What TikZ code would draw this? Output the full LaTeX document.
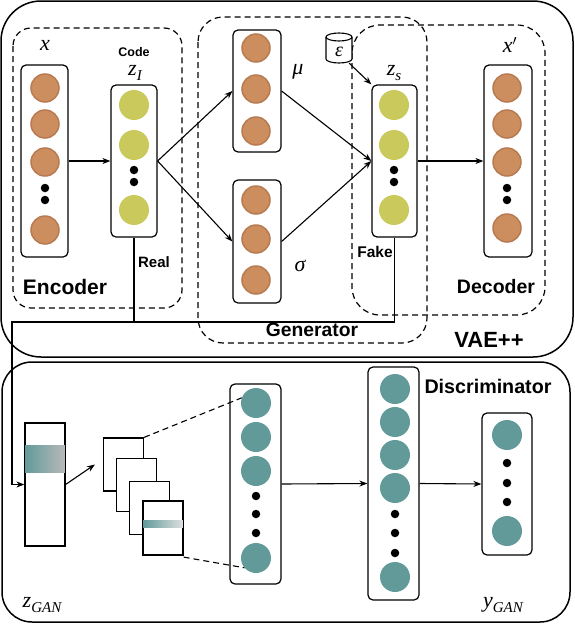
\documentclass[tikz,border=0pt]{standalone}
\usepackage{fontspec}
\newfontfamily\hv{Liberation Sans}
\newfontfamily\tm{Liberation Serif}
\usetikzlibrary{arrows.meta}
\definecolor{brownfill}{RGB}{205,142,95}
\definecolor{brownline}{RGB}{184,122,80}
\definecolor{ygreen}{RGB}{201,201,92}
\definecolor{tealc}{RGB}{98,154,154}
\newcommand\mi[1]{{\tm\itshape #1}}
\newcommand\msub[2]{\mi{#1}\raisebox{-5pt}{\fontsize{15}{15}\selectfont\mi{#2}}}
\begin{document}
\begin{tikzpicture}[x=1pt,y=-1pt,
  outerbox/.style={draw, line width=1.5pt},
  dbox/.style={draw, line width=1.2pt, dash pattern=on 6pt off 4pt},
  col/.style={draw, rounded corners=5pt, line width=1.2pt, inner sep=0, fill=white},
  bc/.style={circle, fill=brownfill, draw=brownline, line width=1.5pt, minimum size=28pt, inner sep=0},
  yc/.style={circle, fill=ygreen, minimum size=30pt, inner sep=0},
  tc/.style={circle, fill=tealc, minimum size=30pt, inner sep=0},
  dotc/.style={circle, fill=black, minimum size=8.5pt, inner sep=0},
  sq/.style={draw, line width=1.2pt, fill=white, minimum width=40pt, minimum height=53pt, inner sep=0},
  arr/.style={-{Stealth[length=8pt,width=6pt]}, line width=1.1pt},
  ln/.style={line width=1.1pt},
  lab/.style={font=\hv\bfseries\fontsize{15.5}{18}\selectfont, inner sep=0},
  mlab/.style={font=\fontsize{22}{24}\selectfont, inner sep=0}
]
\useasboundingbox (0,0) rectangle (575,627);

% outer boxes
\draw[outerbox, rounded corners=40pt] (1,1) rectangle (573,357);
\draw[outerbox, rounded corners=30pt] (2,362) rectangle (570,622);

% dashed groups
\draw[dbox, rounded corners=18pt] (13,28) rectangle (182,308);
\draw[dbox, rounded corners=25pt] (198,17) rectangle (427,343);
\draw[dbox, rounded corners=28pt] (352,25) rectangle (545,315);

% ---------- VAE part ----------
\node[col, minimum width=47pt, minimum height=192pt] (xcol) at (44.5,161) {};
\node[bc] (x1) at (45,88) {};
\node[bc] (x2) at (45,124) {};
\node[bc] (x3) at (45,162) {};
\node[dotc] (xd1) at (45,188) {};
\node[dotc] (xd2) at (45,200) {};
\node[bc] (x4) at (45,230) {};

\node[col, minimum width=46pt, minimum height=152pt] (zi) at (134,161) {};
\node[yc] (zi1) at (134,105) {};
\node[yc] (zi2) at (134,145) {};
\node[dotc] (zid1) at (134,170) {};
\node[dotc] (zid2) at (134,182) {};
\node[yc] (zi3) at (134,210) {};

\node[col, minimum width=48pt, minimum height=122pt] (mu) at (257,91) {};
\node[bc] (mu1) at (256,48) {};
\node[bc] (mu2) at (256,89) {};
\node[bc] (mu3) at (256,131) {};

\node[col, minimum width=48pt, minimum height=123pt] (sg) at (257,241.5) {};
\node[bc] (sg1) at (256,200) {};
\node[bc] (sg2) at (256,239) {};
\node[bc] (sg3) at (256,280) {};

\node[col, minimum width=45pt, minimum height=152pt] (zs) at (394.5,161) {};
\node[yc] (zs1) at (394,105) {};
\node[yc] (zs2) at (394,145) {};
\node[dotc] (zsd1) at (394,170) {};
\node[dotc] (zsd2) at (394,182) {};
\node[yc] (zs3) at (394,210) {};

\node[col, minimum width=48pt, minimum height=192pt] (xp) at (508,161) {};
\node[bc] (xp1) at (507,88) {};
\node[bc] (xp2) at (507,124) {};
\node[bc] (xp3) at (507,162) {};
\node[dotc] (xpd1) at (507,188) {};
\node[dotc] (xpd2) at (507,200) {};
\node[bc] (xp4) at (507,228) {};

% epsilon cylinder
\node[minimum width=26pt, minimum height=30pt, inner sep=0] (eps) at (339,48) {};
\draw[line width=1.1pt, fill=white] (326,37) -- (326,59) arc[start angle=180, end angle=360, x radius=13pt, y radius=4pt] -- (352,37);
\draw[line width=1.1pt] (339,37) ellipse [x radius=13pt, y radius=4pt];
\node[font=\fontsize{20}{22}\selectfont, inner sep=0] (epst) at (339,52) {\mi{ε}};

% arrows VAE
\draw[arr] (xcol.east) -- (zi.west);
\draw[arr] (zi.east) -- (mu.west);
\draw[arr] (zi.east) -- (sg.west);
\draw[arr] (mu.east) -- (zs.west);
\draw[arr] (sg.east) -- (zs.west);
\draw[arr] ([xshift=-3pt]eps.south east) -- (zs.north west);
\draw[arr] (zs.east) -- (xp.west);

% ---------- GAN part ----------
\node[draw, line width=1.2pt, fill=white, minimum width=40pt, minimum height=123pt, inner sep=0] (zgan) at (45,484.5) {};
\shade[left color=tealc, right color=gray!55] (25,445) rectangle (65,472);
\draw[line width=1.2pt] (zgan.north west) rectangle (zgan.south east);

\coordinate (bus) at (12,322);
\draw[ln] (zs.south) |- (bus);
\draw[arr] (zi.south) |- (bus) |- (zgan.west);

\node[sq] (s1) at (123.5,464.5) {};
\node[sq] (s2) at (136.5,485) {};
\node[sq] (s3) at (149.5,508) {};
\node[sq] (s4) at (163,528) {};
\shade[left color=tealc, right color=gray!25] (143,520) rectangle (183,527);
\draw[line width=1.2pt] (s4.north west) rectangle (s4.south east);
\draw[arr] (zgan.east) -- ([xshift=-8pt]s1.west);

\node[col, minimum width=51pt, minimum height=200pt] (c1) at (255.5,484) {};
\node[tc] (c11) at (256,403) {};
\node[tc] (c12) at (256,437) {};
\node[tc] (c13) at (256,471) {};
\node[dotc] (c1d1) at (256,496) {};
\node[dotc] (c1d2) at (256,514) {};
\node[dotc] (c1d3) at (256,533) {};
\node[tc] (c14) at (256,558) {};

\draw[ln, dash pattern=on 6pt off 4pt] (s1.north east) -- (c11.160);
\draw[ln, dash pattern=on 6pt off 4pt] ([yshift=-2pt]s4.south east) -- (c14.220);

\node[col, minimum width=51pt, minimum height=233pt] (c2) at (393.5,483.5) {};
\node[tc] (c21) at (395,389) {};
\node[tc] (c22) at (395,422) {};
\node[tc] (c23) at (395,455) {};
\node[tc] (c24) at (395,488) {};
\node[dotc] (c2d1) at (395,514) {};
\node[dotc] (c2d2) at (395,533) {};
\node[dotc] (c2d3) at (395,553) {};
\node[tc] (c25) at (395,577) {};

\node[col, minimum width=50pt, minimum height=142pt] (c3) at (507,484) {};
\node[tc] (c31) at (507,435) {};
\node[dotc] (c3d1) at (507,463) {};
\node[dotc] (c3d2) at (507,483) {};
\node[dotc] (c3d3) at (507,502) {};
\node[tc] (c32) at (507,531) {};

\draw[arr] (c1.east) -- (c2.west);
\draw[arr] (c2.east) -- (c3.west);

% ---------- labels ----------
\node[mlab] (lx) at (45,45) {\mi{x}};
\node[mlab] (lxp) at (510,45) {\mi{x}$^{\prime}$};
\node[mlab] (lzi) at (135,73) {\msub{z}{I}};
\node[mlab] (lzs) at (394,73) {\msub{z}{s}};
\node[mlab] (lmu) at (298,72) {\mi{μ}};
\node[mlab] (lsg) at (300,266) {\mi{σ}};
\node[mlab] (lzg) at (42,605) {\msub{z}{GAN}};
\node[mlab] (lyg) at (503,605) {\msub{y}{GAN}};

\node[lab, font=\hv\bfseries\fontsize{12.5}{14}\selectfont] (lcode) at (134,52) {Code};
\node[lab, font=\hv\bfseries\fontsize{15}{18}\selectfont] (lreal) at (154,262) {Real};
\node[lab] (lfake) at (375,252) {Fake};
\node[lab, font=\hv\bfseries\fontsize{21}{24}\selectfont] (lenc) at (65,287) {Encoder};
\node[lab, font=\hv\bfseries\fontsize{19.5}{22}\selectfont] (ldec) at (496,287) {Decoder};
\node[lab, font=\hv\bfseries\fontsize{19.3}{22}\selectfont] (lgen) at (312,330) {Generator};
\node[lab, font=\hv\bfseries\fontsize{22}{24}\selectfont] (lvae) at (489,340) {VAE++};
\node[lab, font=\hv\bfseries\fontsize{19.7}{22}\selectfont] (ldis) at (488,386) {Discriminator};
\end{tikzpicture}
\end{document}
